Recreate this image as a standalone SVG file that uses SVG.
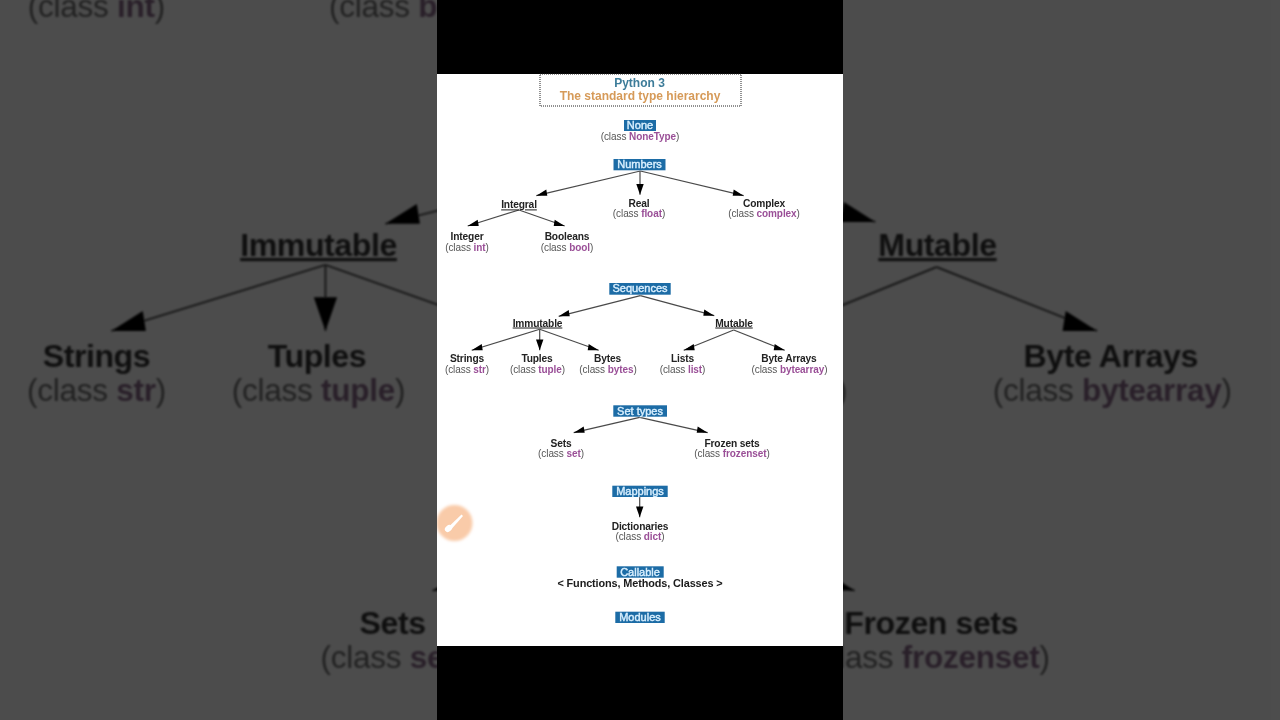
<svg xmlns="http://www.w3.org/2000/svg" xmlns:xlink="http://www.w3.org/1999/xlink" width="1280" height="720" viewBox="0 0 1280 720">
<style>
text{font-family:"Liberation Sans",Arial,sans-serif;text-anchor:middle}
.t{font-size:12px;font-weight:700}
.t1{fill:#3d7c99}
.t2{fill:#d69a58}
.b{fill:#1f6ca6}
.l{font-size:11px;fill:#d9f0ff;stroke:#d9f0ff;stroke-width:.4}
.n{font-size:10.2px;font-weight:700;letter-spacing:-.14px;fill:var(--name,#222)}
.c{font-size:10px;letter-spacing:-.08px;fill:var(--gray,#555)}
.c tspan{font-weight:700;fill:var(--pur,#9a4f97)}
.u{text-decoration:underline}
.f{font-size:10.9px;font-weight:700;letter-spacing:-.12px;fill:#1a1a1a}
.a{fill:none;stroke:#4a4a4a;stroke-width:var(--sw,1.2)}
.ma{marker-end:url(#hl)}
.mb{marker-end:url(#hr)}
.mc{marker-end:url(#hd)}
.bg{--sw:.6;--name:#333;--gray:#6e6e6e;--pur:#8a6a8a}
</style>
<defs>
<marker id="hl" markerUnits="userSpaceOnUse" markerWidth="12" markerHeight="8" refX="0" refY="6.5" orient="0" overflow="visible"><path d="M0 6.5 10 0.2 11 6.5Z" fill="#000"/></marker>
<marker id="hr" markerUnits="userSpaceOnUse" markerWidth="12" markerHeight="8" refX="11" refY="6.5" orient="0" overflow="visible"><path d="M11 6.5 1 0.2 0 6.5Z" fill="#000"/></marker>
<marker id="hd" markerUnits="userSpaceOnUse" markerWidth="8" markerHeight="12" refX="3.7" refY="10.7" orient="0" overflow="visible"><path d="M0 0H7.4L3.7 10.7Z" fill="#000"/></marker>
<filter id="soft" x="-5%" y="-5%" width="110%" height="110%"><feGaussianBlur stdDeviation="0.3"/></filter>
<filter id="backsoft" filterUnits="userSpaceOnUse" x="430" y="60" width="420" height="600"><feGaussianBlur stdDeviation="0.25"/></filter>
<filter id="halo" x="-20%" y="-20%" width="140%" height="140%"><feGaussianBlur stdDeviation="1.4"/></filter>
<clipPath id="panelclip"><rect x="437" y="74" width="406" height="572"/></clipPath>
</defs>

<g id="backdrop">
<rect width="1280" height="720" fill="#fff"/>
<use class="bg" href="#chart" xlink:href="#chart" transform="translate(-1374.6 -772.5) scale(3.15)" filter="url(#backsoft)"/>
<rect width="1280" height="720" fill="#000" fill-opacity=".7"/>
</g>

<g id="video">
<rect x="437" y="0" width="406" height="720" fill="#000"/>
<rect x="437" y="74" width="406" height="572" fill="#fff"/>
</g>

<g id="chart" filter="url(#soft)">
<g id="connectors">
<path class="a ma" d="M640.3 171 536.3 195.7"/>
<path class="a mc" d="M640 171V194.7"/>
<path class="a mb" d="M640.3 171 743.7 195.7"/>
<path class="a ma" d="M519 210 467.7 226"/>
<path class="a mb" d="M519 210 564.7 226"/>
<path class="a ma" d="M640.3 295.7 558.7 316.3"/>
<path class="a mb" d="M640.3 295.7 714.3 315.7"/>
<path class="a ma" d="M539.7 329.3 471.7 350.3"/>
<path class="a mc" d="M539.7 329.3V350.3"/>
<path class="a mb" d="M539.7 329.3 598.7 350.3"/>
<path class="a ma" d="M733.7 330 683.7 350.3"/>
<path class="a mb" d="M733.7 330 784.7 350.3"/>
<path class="a ma" d="M639.7 417.3 573.7 432.7"/>
<path class="a mb" d="M639.7 417.3 707.7 432.7"/>
<path class="a mc" d="M639.7 496.7V517.3"/>
</g>
<g id="title">
<rect x="540" y="74" width="201" height="32" fill="none" stroke="#222" stroke-width="1" stroke-dasharray="1 1"/>
<text class="t t1" x="639.5" y="87">Python 3</text>
<text class="t t2" x="640" y="100.3">The standard type hierarchy</text>
</g>
<g id="none"><rect class="b" x="624" y="120" width="32" height="11"/><text class="l" x="640" y="129">None</text><text class="c" x="640" y="139.6">(class <tspan>NoneType</tspan>)</text></g>
<g id="numbers"><rect class="b" x="613.5" y="159" width="52" height="11.3"/><text class="l" x="639.5" y="168.2">Numbers</text></g>
<g id="integral"><text class="n u" x="519" y="208.4">Integral</text></g>
<g id="real"><text class="n" x="639" y="206.5">Real</text><text class="c" x="639" y="217.4">(class <tspan>float</tspan>)</text></g>
<g id="complex"><text class="n" x="764" y="206.5">Complex</text><text class="c" x="764" y="217.4">(class <tspan>complex</tspan>)</text></g>
<g id="integer"><text class="n" x="467" y="240">Integer</text><text class="c" x="467" y="250.5">(class <tspan>int</tspan>)</text></g>
<g id="booleans"><text class="n" x="567" y="240">Booleans</text><text class="c" x="567" y="250.5">(class <tspan>bool</tspan>)</text></g>
<g id="sequences"><rect class="b" x="609.3" y="283" width="61.4" height="11.7"/><text class="l" x="640" y="292.4">Sequences</text></g>
<g id="immutable"><text class="n u" x="537.5" y="326.5">Immutable</text></g>
<g id="mutable"><text class="n u" x="734" y="326.5">Mutable</text></g>
<g id="strings"><text class="n" x="467" y="361.6">Strings</text><text class="c" x="467" y="372.5">(class <tspan>str</tspan>)</text></g>
<g id="tuples"><text class="n" x="537" y="361.6">Tuples</text><text class="c" x="537.5" y="372.5">(class <tspan>tuple</tspan>)</text></g>
<g id="bytes"><text class="n" x="607.5" y="361.6">Bytes</text><text class="c" x="608" y="372.5">(class <tspan>bytes</tspan>)</text></g>
<g id="lists"><text class="n" x="682.5" y="361.6">Lists</text><text class="c" x="682.5" y="372.5">(class <tspan>list</tspan>)</text></g>
<g id="bytearrays"><text class="n" x="789" y="361.6">Byte Arrays</text><text class="c" x="789.5" y="372.5">(class <tspan>bytearray</tspan>)</text></g>
<g id="settypes"><rect class="b" x="613.3" y="405.3" width="53.7" height="11.4"/><text class="l" x="640" y="414.7">Set types</text></g>
<g id="sets"><text class="n" x="561" y="446.5">Sets</text><text class="c" x="561" y="457.3">(class <tspan>set</tspan>)</text></g>
<g id="frozensets"><text class="n" x="732" y="446.5">Frozen sets</text><text class="c" x="732" y="457.3">(class <tspan>frozenset</tspan>)</text></g>
<g id="mappings"><rect class="b" x="612.3" y="485.7" width="55.4" height="11.3"/><text class="l" x="640" y="495">Mappings</text></g>
<g id="dictionaries"><text class="n" x="640" y="529.5">Dictionaries</text><text class="c" x="640" y="540.2">(class <tspan>dict</tspan>)</text></g>
<g id="callable"><rect class="b" x="616.7" y="566.3" width="47" height="11.4"/><text class="l" x="640" y="575.7">Callable</text><text class="f" x="640" y="587.4">&lt; Functions, Methods, Classes &gt;</text></g>
<g id="modules"><rect class="b" x="615.3" y="611.7" width="49.4" height="11.3"/><text class="l" x="640" y="621">Modules</text></g>
</g>

<g id="brush" clip-path="url(#panelclip)">
<circle cx="454.5" cy="523" r="18" fill="#f9cba9" filter="url(#halo)"/>
<path d="M449.5 526 461.5 514.5 463 516 452 528.5Z" fill="#fff"/>
<ellipse cx="448.5" cy="528.5" rx="4" ry="3" transform="rotate(-40 448.5 528.5)" fill="#fff"/>
</g>
</svg>
